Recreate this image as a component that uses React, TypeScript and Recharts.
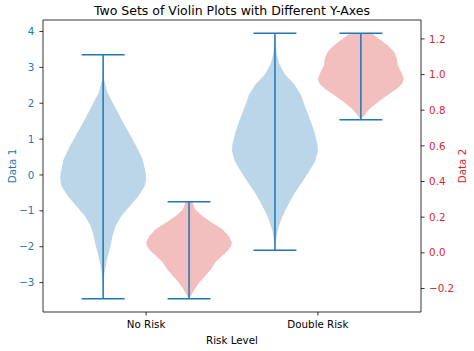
import React from 'react';
import { ScatterChart, Scatter, XAxis, YAxis, Label } from 'recharts';

const FONT = '"DejaVu Sans", sans-serif';
const BLUE = '#1f77b4';
const RED = '#d62728';

const categories = ['No Risk', 'Double Risk'];
const data1Ticks = [-3, -2, -1, 0, 1, 2, 3, 4];
const data2Ticks = [-0.2, 0, 0.2, 0.4, 0.6, 0.8, 1.0, 1.2];

// violin outlines: sample value and relative half-width (1 = widest point)
const noRisk1Y = [3.35, 2.67, 2.3, 1.93, 1.56, 1.18, 0.81, 0.44, 0.06, -0.12, -0.31, -0.59, -0.87, -1.15, -1.42, -1.7, -1.98, -2.35, -2.73, -3.1, -3.45];
const noRisk1W = [0, 0.02, 0.1, 0.26, 0.42, 0.6, 0.77, 0.92, 0.99, 1.0, 0.97, 0.82, 0.62, 0.42, 0.29, 0.22, 0.17, 0.09, 0.03, 0.01, 0];

const noRisk2Y = [0.287, 0.245, 0.208, 0.17, 0.133, 0.096, 0.058, 0.039, 0.011, -0.017, -0.054, -0.092, -0.129, -0.167, -0.204, -0.242, -0.257];
const noRisk2W = [0.08, 0.14, 0.3, 0.53, 0.77, 0.92, 1.0, 0.98, 0.9, 0.77, 0.61, 0.51, 0.38, 0.24, 0.13, 0.04, 0];

const doubleRisk1Y = [3.95, 3.37, 3.09, 2.81, 2.53, 2.25, 1.97, 1.6, 1.23, 0.86, 0.67, 0.39, 0.11, -0.17, -0.45, -0.73, -1.01, -1.28, -1.56, -1.84, -2.1];
const doubleRisk1W = [0, 0.04, 0.1, 0.23, 0.45, 0.6, 0.68, 0.8, 0.91, 0.99, 1.0, 0.94, 0.8, 0.65, 0.49, 0.35, 0.23, 0.13, 0.06, 0.02, 0];

const doubleRisk2Y = [1.232, 1.2, 1.163, 1.125, 1.088, 1.051, 1.013, 0.976, 0.948, 0.92, 0.882, 0.844, 0.807, 0.779, 0.756, 0.747];
const doubleRisk2W = [0.25, 0.43, 0.63, 0.78, 0.84, 0.86, 0.94, 1.0, 0.96, 0.84, 0.61, 0.39, 0.2, 0.1, 0.03, 0];

type Pt = { x: number; y: number };

const violins = [
  { key: 'nr1', center: 0.75, ys: noRisk1Y, ws: noRisk1W, axis: 'left', color: BLUE },
  { key: 'nr2', center: 1.25, ys: noRisk2Y, ws: noRisk2W, axis: 'right', color: RED },
  { key: 'dr1', center: 1.75, ys: doubleRisk1Y, ws: doubleRisk1W, axis: 'left', color: BLUE },
  { key: 'dr2', center: 2.25, ys: doubleRisk2Y, ws: doubleRisk2W, axis: 'right', color: RED },
];

function outline(center: number, ys: number[], ws: number[]): Pt[] {
  const right = ys.map((y, i) => ({ x: center + 0.25 * ws[i], y }));
  const left = ys.map((y, i) => ({ x: center - 0.25 * ws[i], y })).reverse();
  return [...right, ...left];
}

// stem + two caps, drawn as pairs of points
function extrema(center: number, ys: number[]): Pt[] {
  const hi = Math.max(...ys);
  const lo = Math.min(...ys);
  const c = 0.125;
  return [
    { x: center, y: lo }, { x: center, y: hi },
    { x: center - c, y: hi }, { x: center + c, y: hi },
    { x: center - c, y: lo }, { x: center + c, y: lo },
  ];
}

const fillBody = (color: string) => (props: any) => {
  const pts: Pt[] = props.points || [];
  if (!pts.length) return <g />;
  const d = pts.map((p, i) => `${i ? 'L' : 'M'}${p.x},${p.y}`).join(' ') + ' Z';
  return <path d={d} fill={color} fillOpacity={0.3} stroke="none" />;
};

const segments = (props: any) => {
  const pts: Pt[] = props.points || [];
  let d = '';
  for (let i = 0; i + 1 < pts.length; i += 2) d += `M${pts[i].x},${pts[i].y} L${pts[i + 1].x},${pts[i + 1].y} `;
  return <path d={d} fill="none" stroke={BLUE} strokeWidth={1.5} />;
};

const minus = (s: string) => s.replace('-', '\u2212');

const vLabel = (text: string, x: number, color: string) => (props: any) => {
  const vb = props.viewBox || { y: 20, height: 292 };
  const cy = vb.y + vb.height / 2;
  return (
    <text x={x} y={cy} transform={`rotate(-90 ${x} ${cy})`} textAnchor="middle" dominantBaseline="central"
      fill={color} fontSize={10.3} fontFamily={FONT}>
      {text}
    </text>
  );
};

const hLabel = (text: string, y: number, size: number) => (props: any) => {
  const vb = props.viewBox || { x: 43, width: 378 };
  return (
    <text x={vb.x + vb.width / 2} y={y} textAnchor="middle" dominantBaseline="central" fill="#000"
      fontSize={size} fontFamily={FONT}>
      {text}
    </text>
  );
};

const noDot = () => <g />;

export default function App() {
  const spine = { stroke: '#000', strokeWidth: 0.8 };
  return (
    <div style={{ position: 'absolute', left: 0, top: 0, width: 474, height: 351, background: '#fff' }}>
      <ScatterChart width={474} height={351} margin={{ top: 19, right: 0, bottom: 0, left: 0 }}>
        <XAxis xAxisId="top" orientation="top" type="number" dataKey="x" domain={[0.4, 2.6]}
          allowDataOverflow height={1} tick={false} tickLine={false} axisLine={spine}>
          <Label content={hLabel('Two Sets of Violin Plots with Different Y-Axes', 10, 12.5)} />
        </XAxis>
        <XAxis type="number" dataKey="x" domain={[0.4, 2.6]} allowDataOverflow ticks={[1, 2]}
          tickFormatter={(v: number) => categories[v - 1]} height={39} tickSize={3.6} tickMargin={5}
          axisLine={spine} tickLine={spine} tick={{ fill: '#000', fontSize: 10.3, fontFamily: FONT }}>
          <Label content={hLabel('Risk Level', 340, 10.3)} />
        </XAxis>
        <YAxis yAxisId="left" orientation="left" type="number" dataKey="y" domain={[-3.82, 4.32]}
          allowDataOverflow ticks={data1Ticks} width={43} tickSize={3.6} tickMargin={5}
          tickFormatter={(v: number) => minus(String(v))} axisLine={spine} tickLine={spine}
          tick={{ fill: BLUE, fontSize: 10.3, fontFamily: FONT }}>
          <Label content={vLabel('Data 1', 12, BLUE)} />
        </YAxis>
        <YAxis yAxisId="right" orientation="right" type="number" dataKey="y" domain={[-0.332, 1.306]}
          allowDataOverflow ticks={data2Ticks} width={53} tickSize={3.6} tickMargin={4.5}
          tickFormatter={(v: number) => minus(v.toFixed(1))} axisLine={spine} tickLine={spine}
          tick={{ fill: RED, fontSize: 10.3, fontFamily: FONT }}>
          <Label content={vLabel('Data 2', 462, RED)} />
        </YAxis>
        {violins.map((v) => (
          <Scatter key={`${v.key}-body`} yAxisId={v.axis} data={outline(v.center, v.ys, v.ws)}
            shape={noDot} line={fillBody(v.color)} legendType="none" isAnimationActive={false} />
        ))}
        {violins.map((v) => (
          <Scatter key={`${v.key}-lines`} yAxisId={v.axis} data={extrema(v.center, v.ys)}
            shape={noDot} line={segments} legendType="none" isAnimationActive={false} />
        ))}
      </ScatterChart>
    </div>
  );
}
